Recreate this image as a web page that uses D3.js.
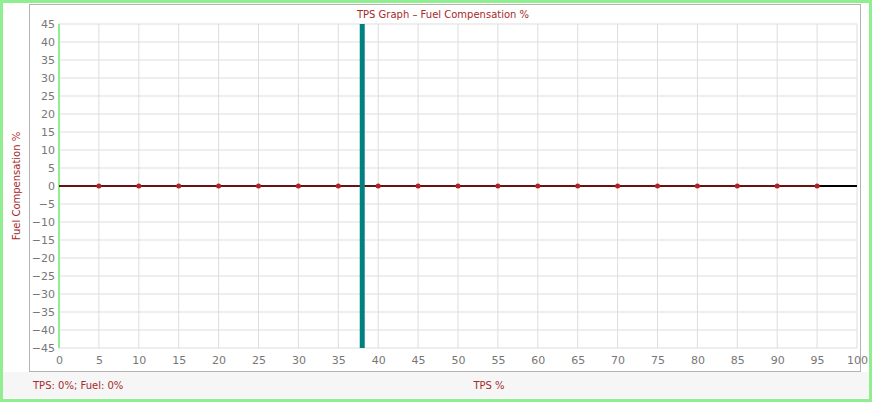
<!DOCTYPE html>
<html><head><meta charset="utf-8">
<script src="https://cdn.jsdelivr.net/npm/d3@7"></script>
<style>
body{margin:0;background:#fff;}
svg{display:block;font-family:"DejaVu Sans",Verdana,sans-serif;}
</style></head><body>
<svg id="chart" width="872" height="402"></svg>
<script>
// data
const tpsValues = [0,5,10,15,20,25,30,35,40,45,50,55,60,65,70,75,80,85,90,95];
const fuelComp = [0,0,0,0,0,0,0,0,0,0,0,0,0,0,0,0,0,0,0,0];
const xTicks = d3.range(0, 101, 5);
const yTicks = d3.range(-45, 46, 5);
const currentTps = 38;

const svg = d3.select('#chart');
const x = d3.scaleLinear().domain([0, 100]).range([59, 857]);
const y = d3.scaleLinear().domain([-45, 45]).range([348, 24]);

// outer frame and bottom status strip
svg.append('rect').attr('x', 3).attr('y', 372).attr('width', 866).attr('height', 26).attr('fill', '#f6f6f6');
svg.append('rect').attr('x', 29.5).attr('y', 4.5).attr('width', 831).attr('height', 367)
  .attr('fill', 'none').attr('stroke', '#666').attr('stroke-dasharray', '1,1');
svg.append('rect').attr('x', 1.5).attr('y', 1.5).attr('width', 869).attr('height', 399)
  .attr('fill', 'none').attr('stroke', '#90ee90').attr('stroke-width', 3);

// grid
const grid = svg.append('g');
grid.selectAll('.vx').data(xTicks).enter().append('line')
  .attr('x1', d => x(d)).attr('x2', d => x(d)).attr('y1', y(45)).attr('y2', y(-45))
  .attr('stroke', '#ddd');
grid.selectAll('.hy').data(yTicks).enter().append('line')
  .attr('x1', x(0)).attr('x2', x(100)).attr('y1', d => y(d)).attr('y2', d => y(d))
  .attr('stroke', '#ddd');

// axes
const xAxis = svg.append('g').attr('transform', `translate(0,${y(-45)})`)
  .call(d3.axisBottom(x).tickValues(xTicks).tickSize(0).tickPadding(8));
const yAxis = svg.append('g').attr('transform', `translate(${x(0)},0)`)
  .call(d3.axisLeft(y).tickValues(yTicks).tickSize(0).tickPadding(4));
[xAxis, yAxis].forEach(a => {
  a.select('.domain').remove();
  a.selectAll('text').attr('fill', '#777').style('font-size', '11px')
    .style('font-family', '"DejaVu Sans",Verdana,sans-serif');
});
svg.append('line').attr('x1', x(0)).attr('x2', x(0)).attr('y1', y(45)).attr('y2', y(-45))
  .attr('stroke', '#90ee90').attr('stroke-width', 2);

// zero line
svg.append('line').attr('x1', x(0)).attr('x2', x(100)).attr('y1', y(0)).attr('y2', y(0))
  .attr('stroke', '#000').attr('stroke-width', 2);

// series
const pts = tpsValues.map((t, i) => ({x: t, y: fuelComp[i]}));
svg.append('path').datum(pts)
  .attr('d', d3.line().x(d => x(d.x)).y(d => y(d.y)))
  .attr('fill', 'none').attr('stroke', '#8b1a1a').attr('stroke-width', 1.5);
svg.selectAll('.pt').data(pts.slice(1)).enter().append('circle')
  .attr('cx', d => x(d.x)).attr('cy', d => y(d.y)).attr('r', 2.5).attr('fill', '#b22222');

// current TPS marker
svg.append('line').attr('x1', x(currentTps)).attr('x2', x(currentTps)).attr('y1', y(45)).attr('y2', y(-45))
  .attr('stroke', '#008080').attr('stroke-width', 5);

// labels
const red = '#a52a2a';
svg.append('text').attr('x', 443).attr('y', 18).attr('text-anchor', 'middle')
  .attr('fill', red).style('font-size', '10px').text('TPS Graph \u2013 Fuel Compensation %');
svg.append('text').attr('transform', `translate(20,${y(0)}) rotate(-90)`).attr('text-anchor', 'middle')
  .attr('fill', red).style('font-size', '10px').text('Fuel Compensation %');
svg.append('text').attr('x', 489).attr('y', 389).attr('text-anchor', 'middle')
  .attr('fill', red).style('font-size', '10px').text('TPS %');
svg.append('text').attr('x', 33).attr('y', 389)
  .attr('fill', red).style('font-size', '10px').text('TPS: 0%; Fuel: 0%');
</script>
</body></html>
